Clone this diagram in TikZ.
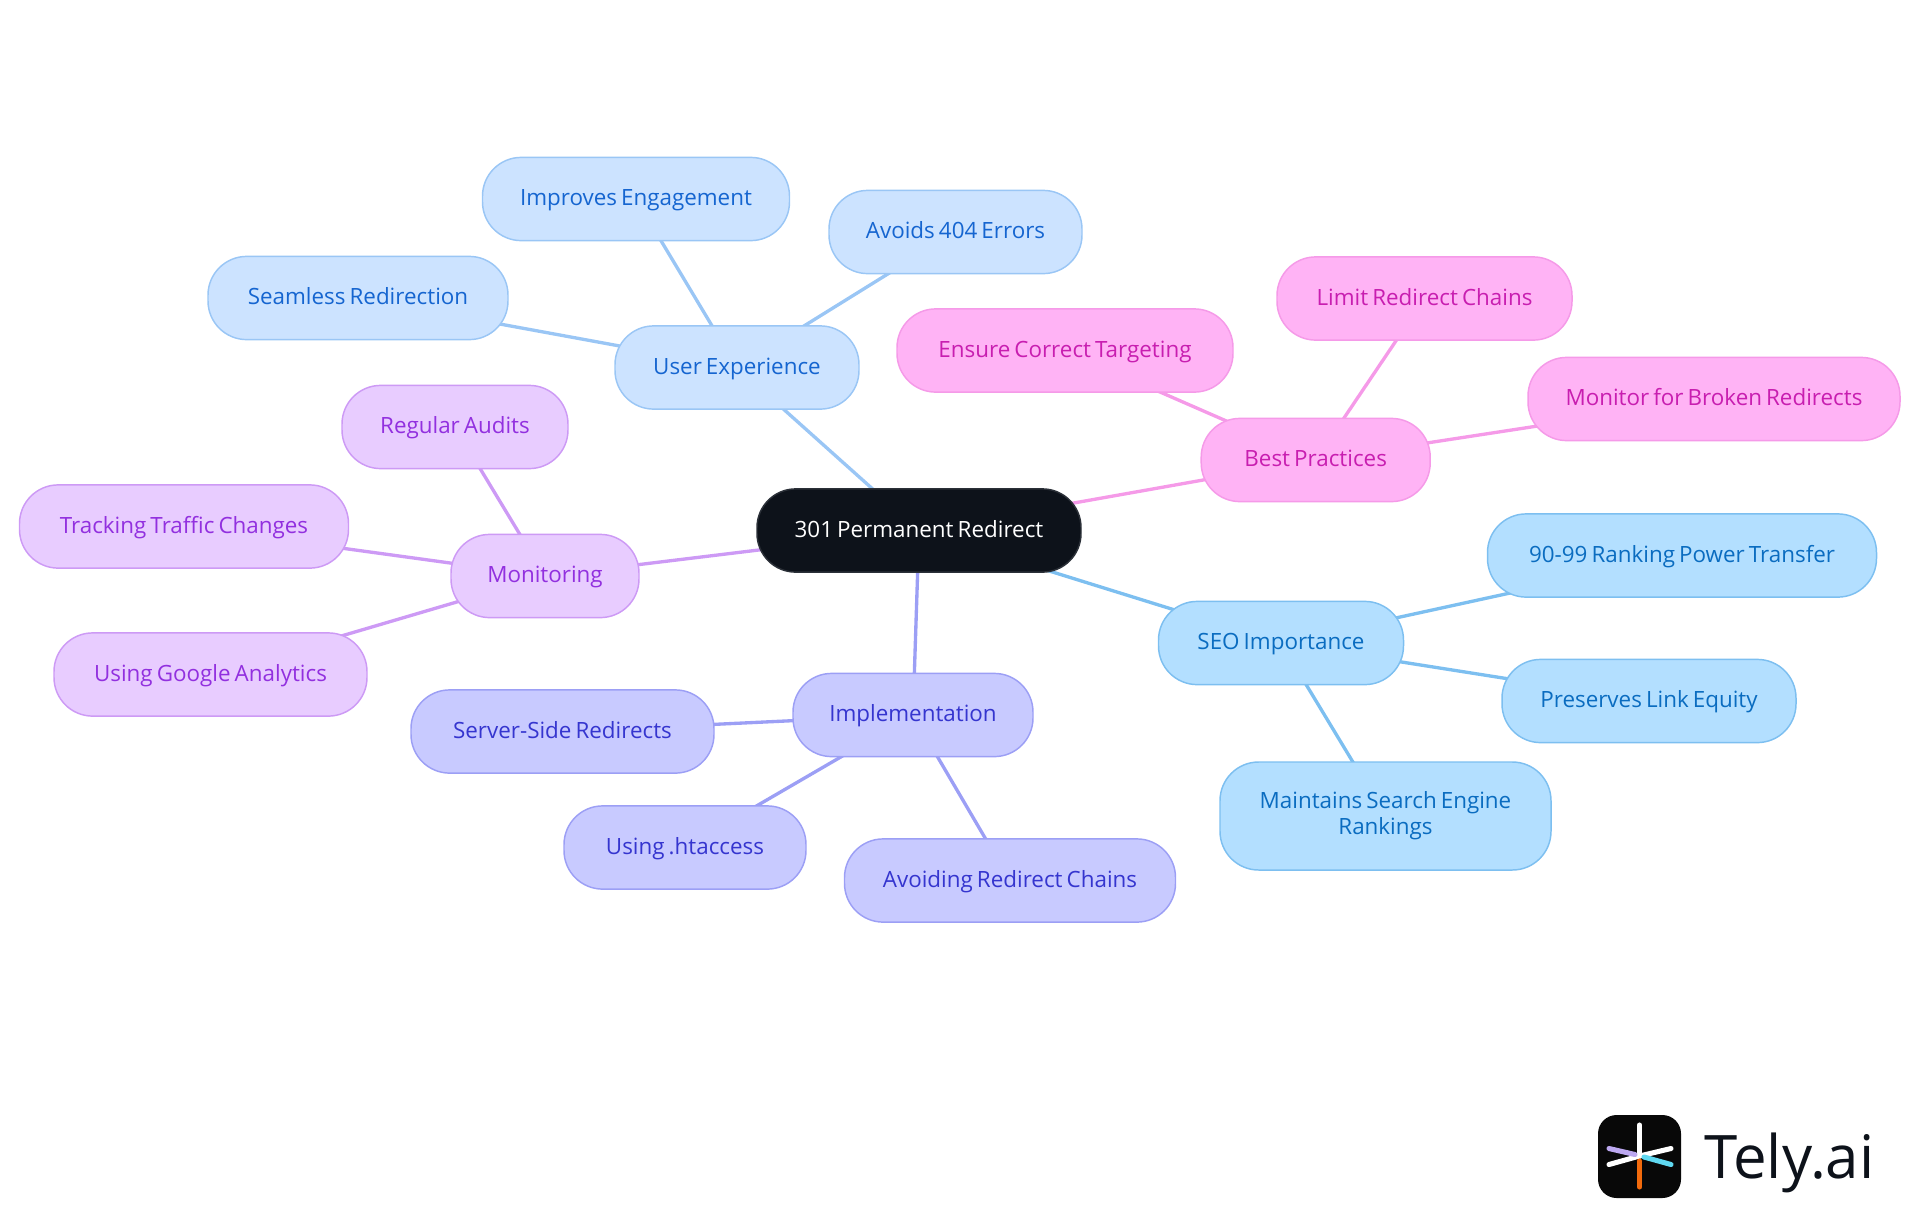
\documentclass[tikz,border=0pt]{standalone}
\usepackage{fontspec}
\usetikzlibrary{backgrounds}
\setmainfont[WordSpace=0.7]{Open Sans}
\newfontfamily\logofont{Open Sans}

\definecolor{blueFill}{HTML}{CCE3FF}\definecolor{blueLine}{HTML}{9AC6F5}\definecolor{blueText}{HTML}{1565D0}
\definecolor{pinkFill}{HTML}{FFB3F5}\definecolor{pinkLine}{HTML}{F59AE8}\definecolor{pinkText}{HTML}{C81EB0}
\definecolor{skyFill}{HTML}{B3DFFF}\definecolor{skyLine}{HTML}{7DBFF0}\definecolor{skyText}{HTML}{0A6CC0}
\definecolor{violetFill}{HTML}{C8CAFF}\definecolor{violetLine}{HTML}{9C9FF5}\definecolor{violetText}{HTML}{3535CF}
\definecolor{lilacFill}{HTML}{E8CCFF}\definecolor{lilacLine}{HTML}{CD9AF5}\definecolor{lilacText}{HTML}{9230DF}
\definecolor{rootFill}{HTML}{0D121A}\definecolor{rootLine}{HTML}{2B3038}
\definecolor{spokeLilac}{HTML}{BCA8F0}\definecolor{spokeCyan}{HTML}{5FD8F0}\definecolor{spokeOrange}{HTML}{F26A0C}

\tikzset{
  box/.style={rounded corners=29pt,minimum height=62.4pt,minimum width=#1*0.75pt,inner sep=0pt,outer sep=0pt,
    line width=1.1pt,align=center,text height=14pt,text depth=4.2pt,font=\fontsize{16.8}{19.3}\selectfont},
  root/.style={box=#1,fill=rootFill,draw=rootLine,text=white},
  ux/.style={box=#1,fill=blueFill,draw=blueLine,text=blueText},
  best/.style={box=#1,fill=pinkFill,draw=pinkLine,text=pinkText},
  seo/.style={box=#1,fill=skyFill,draw=skyLine,text=skyText},
  impl/.style={box=#1,fill=violetFill,draw=violetLine,text=violetText},
  mon/.style={box=#1,fill=lilacFill,draw=lilacLine,text=lilacText},
  edge/.style={line width=2.5pt},
  spoke/.style={line width=3.8pt,line cap=round}
}

\begin{document}
\begin{tikzpicture}[x=0.75pt,y=0.75pt,yscale=-1,xscale=1]
\useasboundingbox (0,0) rectangle (1920,1215);

% Centre
\node [root=324] (redirect) at (919,530.5) {301 Permanent Redirect};

% User experience
\node [ux=244] (experience) at (737,367.5) {User Experience};
\node [ux=307] (engagement) at (636,199) {Improves Engagement};
\node [ux=253] (errors) at (955.5,232) {Avoids 404 Errors};
\node [ux=300] (seamless) at (358,298) {Seamless Redirection};

% Best practices
\node [best=229] (practices) at (1315.7,460) {Best Practices};
\node [best=336] (targeting) at (1065,350.5) {Ensure Correct Targeting};
\node [best=295] (limit) at (1424.5,298.5) {Limit Redirect Chains};
\node [best=372] (broken) at (1714,399) {Monitor for Broken Redirects};

% SEO
\node [seo=245] (importance) at (1281,643) {SEO Importance};
\node [seo=389] (ranking) at (1682,555.5) {90-99 Ranking Power Transfer};
\node [seo=294] (equity) at (1649,701) {Preserves Link Equity};
\node [seo=331,minimum height=81pt,text height=,text depth=] (maintains) at (1385.5,816) {Maintains Search Engine\\Rankings};

% Implementation
\node [impl=240] (implementation) at (913,715) {Implementation};
\node [impl=303] (server) at (562.5,731.5) {Server-Side Redirects};
\node [impl=242] (htaccess) at (685,847.5) {Using .htaccess};
\node [impl=331] (avoiding) at (1010,880.5) {Avoiding Redirect Chains};

% Monitoring
\node [mon=188] (monitoring) at (545,576) {Monitoring};
\node [mon=226] (audits) at (455,427) {Regular Audits};
\node [mon=329] (traffic) at (184,526.5) {Tracking Traffic Changes};
\node [mon=313] (analytics) at (210.5,674.5) {Using Google Analytics};

% Connectors
\begin{scope}[on background layer]
\draw [edge,blueLine] (redirect.center) -- (experience.center);
\foreach \leaf in {engagement,errors,seamless}
  \draw [edge,blueLine] (experience.center) -- (\leaf.center);
\draw [edge,pinkLine] (redirect.center) -- (practices.center);
\foreach \leaf in {targeting,limit,broken}
  \draw [edge,pinkLine] (practices.center) -- (\leaf.center);
\draw [edge,skyLine] (redirect.center) -- (importance.center);
\foreach \leaf in {ranking,equity,maintains}
  \draw [edge,skyLine] (importance.center) -- (\leaf.center);
\draw [edge,violetLine] (redirect.center) -- (implementation.center);
\foreach \leaf in {server,htaccess,avoiding}
  \draw [edge,violetLine] (implementation.center) -- (\leaf.center);
\draw [edge,lilacLine] (redirect.center) -- (monitoring.center);
\foreach \leaf in {audits,traffic,analytics}
  \draw [edge,lilacLine] (monitoring.center) -- (\leaf.center);
\end{scope}

% Logo
\fill [black!97,rounded corners=14pt] (1598,1115) rectangle (1681,1198);
\coordinate (hub) at (1639.5,1156);
\draw [spoke,white] (hub) -- (1639.5,1125);
\draw [spoke,white] (hub) -- (1671,1148.5);
\draw [spoke,white] (hub) -- (1609,1164.5);
\draw [spoke,spokeLilac] (1635,1154.5) -- (1609,1148.5);
\draw [spoke,spokeCyan] (1644,1157) -- (1671,1164.5);
\draw [spoke,spokeOrange] (1639.5,1161) -- (1639.5,1187);
\node [text=rootFill,anchor=base west,inner sep=0pt,font=\logofont\fontsize{45}{45}\selectfont] (brand) at (1704,1178) {Tely.ai};

\end{tikzpicture}
\end{document}
